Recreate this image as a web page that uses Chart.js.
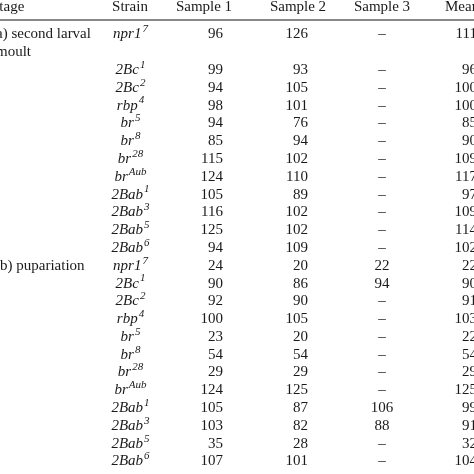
<!DOCTYPE html>
<html><head><meta charset="utf-8">
<script src="https://cdn.jsdelivr.net/npm/chart.js@4"></script>
<style>html,body{margin:0;padding:0;background:#fff}#w{width:474px;height:474px}</style>
</head><body><div id="w"><canvas id="c"></canvas></div>
<script>
const headers = ["Stage","Strain","Sample 1","Sample 2","Sample 3","Mean"];
const stageLabels = ["(a) second larval","moult","(b) pupariation"];
const strainBase = ["npr1","2Bc","2Bc","rbp","br","br","br","br","2Bab","2Bab","2Bab","2Bab",
                    "npr1","2Bc","2Bc","rbp","br","br","br","br","2Bab","2Bab","2Bab","2Bab"];
const strainSup = ["7","1","2","4","5","8","28","Aub","1","3","5","6",
                   "7","1","2","4","5","8","28","Aub","1","3","5","6"];
const sample1 = [96,99,94,98,94,85,115,124,105,116,125,94, 24,90,92,100,23,54,29,124,105,103,35,107];
const sample2 = [126,93,105,101,76,94,102,110,89,102,102,109, 20,86,90,105,20,54,29,125,87,82,28,101];
const sample3 = [null,null,null,null,null,null,null,null,null,null,null,null, 22,94,null,null,null,null,null,null,106,88,null,null];
const mean = [111,96,100,100,85,90,109,117,97,109,114,102, 22,90,91,103,22,54,29,125,99,91,32,104];
const rowSlots = [1,3,4,5,6,7,8,9,10,11,12,13, 14,15,16,17,18,19,20,21,22,23,24,25];
</script>
<script>
const colX = {stage:-9, strain:130, s1:223, s2:308, s3:382, mean:477};
const tablePlugin = {
  id:'table',
  afterDraw(chart){
    const c = chart.ctx, X = chart.scales.x, Y = chart.scales.y;
    const px = v => X.getPixelForValue(v), py = v => Y.getPixelForValue(v);
    c.save();
    c.fillStyle = '#1a1a1a';
    c.textBaseline = 'middle';
    const F = '15px "Liberation Serif", "DejaVu Serif", serif';
    const FI = 'italic 15px "Liberation Serif", serif';
    const FS = 'italic 11px "Liberation Serif", serif';
    c.font = F;
    const hy = py(-0.54);
    c.textAlign='left'; c.fillText(headers[0], px(-9), hy);
    c.textAlign='center'; c.fillText(headers[1], px(colX.strain), hy);
    c.fillText(headers[2], px(colX.s1)-19, hy);
    c.fillText(headers[3], px(colX.s2)-10, hy);
    c.fillText(headers[4], px(colX.s3), hy);
    c.textAlign='left'; c.fillText(headers[5], px(445), hy);
    c.strokeStyle='#888'; c.lineWidth=2;
    c.beginPath(); c.moveTo(0, py(0.19)); c.lineTo(chart.width, py(0.19)); c.stroke();
    c.textAlign='left';
    c.fillText(stageLabels[0], px(colX.stage), py(1));
    c.fillText(stageLabels[1], px(-4), py(2));
    c.fillText(stageLabels[2], px(-5), py(14));
    for (let i=0;i<strainBase.length;i++){
      const y = py(rowSlots[i]);
      c.font = FI; const bw = c.measureText(strainBase[i]).width;
      c.font = FS; const sw = c.measureText(strainSup[i]).width;
      const x0 = px(colX.strain) - (bw+sw)/2;
      c.font = FI; c.textAlign='left'; c.fillText(strainBase[i], x0, y);
      c.font = FS; c.fillText(strainSup[i], x0+bw+1, y-5);
      c.font = F; c.textAlign='right';
      c.fillText(String(sample1[i]), px(colX.s1), y);
      c.fillText(String(sample2[i]), px(colX.s2), y);
      c.fillText(String(mean[i]), px(colX.mean), y);
      c.textAlign='center';
      c.fillText(sample3[i]===null ? '–' : String(sample3[i]), px(colX.s3), y);
    }
    c.restore();
  }
};
new Chart(document.getElementById('c'), {
  type:'scatter',
  data:{datasets:[{data:[]}]},
  options:{
    responsive:true, maintainAspectRatio:false, animation:false,
    layout:{padding:0},
    plugins:{legend:{display:false}, tooltip:{enabled:false}},
    scales:{
      x:{type:'linear', min:0, max:474, display:false},
      y:{type:'linear', reverse:true, min:-0.933, max:25.70, display:false}
    }
  },
  plugins:[tablePlugin]
});
</script>
</body></html>
